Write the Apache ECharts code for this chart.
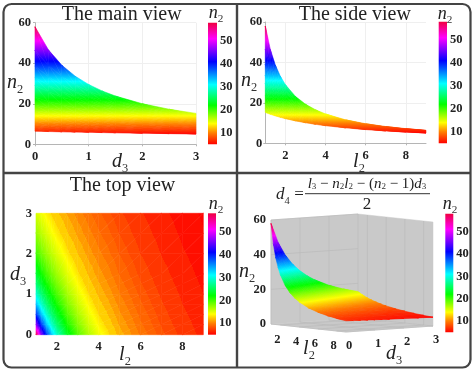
<!DOCTYPE html>
<html><head><meta charset="utf-8">
<style>html,body{margin:0;padding:0;background:#fff}#c{width:474px;height:372px}</style>
<script src="https://cdn.jsdelivr.net/npm/echarts@6/dist/echarts.min.js"></script>
</head><body><div id="c"></div>
<script>
// ---- data ----
const l2Values = [1,1.25,1.5,1.75,2,2.5,3,3.5,4,5,6,7,8,9];
const d3Values = [0,0.25,0.5,0.75,1,1.25,1.5,2,2.5,3];
// n2 surface: one row per l2 value, one column per d3 value
const n2Table = [
 [58,46.6,39,33.57,29.5,26.33,23.8,20,17.29,15.25],
 [46.4,38.83,33.43,29.38,26.22,23.7,21.64,18.46,16.13,14.35],
 [38.67,33.29,29.25,26.11,23.6,21.55,19.83,17.14,15.13,13.56],
 [33.14,29.13,26,23.5,21.45,19.75,18.31,16,14.24,12.84],
 [29,25.89,23.4,21.36,19.67,18.23,17,15,13.44,12.2],
 [23.2,21.18,19.5,18.08,16.86,15.8,14.88,13.33,12.1,11.09],
 [19.33,17.92,16.71,15.67,14.75,13.94,13.22,12,11,10.17],
 [16.57,15.53,14.63,13.82,13.11,12.47,11.9,10.91,10.08,9.38],
 [14.5,13.71,13,12.37,11.8,11.29,10.82,10,9.31,8.71],
 [11.6,11.1,10.64,10.22,9.83,9.48,9.15,8.57,8.07,7.63],
 [9.67,9.32,9,8.7,8.43,8.17,7.93,7.5,7.12,6.78],
 [8.29,8.03,7.8,7.58,7.38,7.18,7,6.67,6.37,6.1],
 [7.25,7.06,6.88,6.71,6.56,6.41,6.26,6,5.76,5.55],
 [6.44,6.3,6.16,6.03,5.9,5.78,5.67,5.45,5.26,5.08]
];
const n2Ticks = [0,20,40,60];
const d3Ticks = [0,1,2,3];
const l2Ticks = [2,4,6,8];
const barTicks = [10,20,30,40,50];
const titles = ['The main view','The side view','The top view'];
// colour scale of the colour bars: value, colour
const scaleValues = [5,10,14,18,22,31,41,47,51,58];
const scaleColors = ['#ff0000','#ff8000','#ffff00','#80ff00','#00ff00','#00ffff','#0000ff','#9900ff','#ff00ff','#f00040'];
// contour band edges visible in the top view
const bandEdges = [5.2,5.9,6.7,7.5,8.1,8.6,9.2,9.8,10.5,11.2,12,13];

// ---- colour helpers ----
const SERIF = '"Liberation Serif"';
const rgbOf = h => [1,3,5].map(i => parseInt(h.substr(i,2),16));
function colorAt(n){
  let i = 0; while (i < scaleValues.length-2 && n > scaleValues[i+1]) i++;
  const t = Math.min(1,Math.max(0,(n-scaleValues[i])/(scaleValues[i+1]-scaleValues[i])));
  const a = rgbOf(scaleColors[i]), b = rgbOf(scaleColors[i+1]);
  return 'rgb('+a.map((v,k)=>Math.round(v+(b[k]-v)*t)).join(',')+')';
}
const LO = scaleValues[0], HI = scaleValues[scaleValues.length-1];
const off = n => (n-LO)/(HI-LO);
const smoothStops = scaleValues.map((v,i)=>({offset:off(v),color:scaleColors[i]}));
const bandStops = (function(){
  const s = [];
  const edges = [LO].concat(bandEdges);
  for (let i=0;i<edges.length-1;i++){
    const c = colorAt((edges[i]+edges[i+1])/2);
    s.push({offset:off(edges[i]),color:c},{offset:off(edges[i+1]),color:c});
  }
  const last = edges[edges.length-1];
  s.push({offset:off(last),color:colorAt(last)});
  scaleValues.forEach((v,i)=>{ if (v>last) s.push({offset:off(v),color:scaleColors[i]}); });
  return s;
})();

// triangles coloured exactly by n2 (n2 is linear inside a triangle)
function triangleRenderer(stops){
  return function(params, api){
    const p = [0,1,2].map(i=>api.coord([api.value(3*i),api.value(3*i+1)]));
    const n = [2,5,8].map(i=>api.value(i));
    const ax=p[1][0]-p[0][0], ay=p[1][1]-p[0][1], bx=p[2][0]-p[0][0], by=p[2][1]-p[0][1];
    const dn1=n[1]-n[0], dn2=n[2]-n[0], det=ax*by-bx*ay;
    if (Math.abs(det)<1e-3) return null;
    const ga=(dn1*by-dn2*ay)/det, gb=(ax*dn2-bx*dn1)/det, g2=ga*ga+gb*gb;
    let fill;
    if (g2<1e-9) fill = colorAt(n[0]);
    else {
      const at = v => [p[0][0]+ga*(v-n[0])/g2, p[0][1]+gb*(v-n[0])/g2];
      const s=at(LO), e=at(HI);
      fill = {type:'linear',x:s[0],y:s[1],x2:e[0],y2:e[1],global:true,colorStops:stops};
    }
    return {type:'polygon',shape:{points:p},style:{fill:fill,stroke:fill,lineWidth:0.6}};
  };
}
function meshData(project){
  const out=[];
  for (let i=0;i<l2Values.length-1;i++) for (let j=0;j<d3Values.length-1;j++){
    const v=(a,b)=>{const q=project(l2Values[a],d3Values[b],n2Table[a][b]);return [q[0],q[1],n2Table[a][b]];};
    const A=v(i,j),B=v(i+1,j),C=v(i+1,j+1),D=v(i,j+1);
    out.push(A.concat(B,C),A.concat(C,D));
  }
  return out;
}

// ---- option assembly ----
const grids=[],xAxes=[],yAxes=[],series=[];
const lab = (extra)=>Object.assign({fontFamily:SERIF,fontWeight:'bold',fontSize:12.5,color:'#222'},extra);
function addGrid(box,x,y){
  grids.push(box);
  xAxes.push(Object.assign({gridIndex:grids.length-1,type:'value'},x));
  yAxes.push(Object.assign({gridIndex:grids.length-1,type:'value'},y));
  return grids.length-1;
}
function numAxis(min,max,ticks,margin){
  return {min:min,max:max,
    axisLine:{show:true,onZero:false,lineStyle:{color:'#b5b5b5',width:1}},
    axisTick:{show:true,length:2,customValues:ticks,lineStyle:{color:'#b5b5b5'}},
    axisLabel:{margin:margin,customValues:ticks,showMinLabel:true,showMaxLabel:true,
      fontFamily:SERIF,fontWeight:'bold',fontSize:12.5,color:'#222'},
    splitLine:{show:true,lineStyle:{color:'#efefef',width:1}}};
}
function addView(box,x,y,project,stops){
  const g=addGrid(box,x,y);
  series.push({type:'custom',xAxisIndex:g,yAxisIndex:g,silent:true,animation:false,
    encode:{x:0,y:1},renderItem:triangleRenderer(stops),data:meshData(project)});
}
function addBar(left,width,top,height){
  const g=addGrid({left,top,width,height},
    {min:0,max:1,show:false},
    {min:LO,max:HI,position:'right',
     axisLine:{show:false},axisTick:{show:false},splitLine:{show:false},
     axisLabel:Object.assign({margin:3,customValues:barTicks},lab())});
  series.push({type:'custom',xAxisIndex:g,yAxisIndex:g,silent:true,animation:false,
    encode:{x:0,y:1},data:[[0,LO,1,HI]],
    renderItem:function(params,api){
      const a=api.coord([api.value(0),api.value(1)]),b=api.coord([api.value(2),api.value(3)]);
      return {type:'rect',shape:{x:a[0],y:b[1],width:b[0]-a[0],height:a[1]-b[1]},
        style:{fill:{type:'linear',x:0,y:1,x2:0,y2:0,colorStops:smoothStops}}};
    }});
}

// main view
addView({left:35,top:22.7,width:161,height:121.6},numAxis(0,3,d3Ticks,6),numAxis(0,60,n2Ticks,4),(l,d,n)=>[d,n],smoothStops);
addBar(208,9,22.7,121.6);
// side view
addView({left:265.3,top:22,width:160.7,height:121.3},numAxis(1,9,l2Ticks,6),numAxis(0,60,n2Ticks,3),(l,d,n)=>[l,n],smoothStops);
addBar(438.7,8.3,21.7,121.6);
// top view
const tx=numAxis(1,9,l2Ticks,6), ty=numAxis(0,3,d3Ticks,4);
tx.axisLine.show=ty.axisLine.show=false; tx.axisTick.show=ty.axisTick.show=false;
tx.splitLine.show=ty.splitLine.show=false;
addView({left:36,top:213.3,width:167.3,height:121.4},tx,ty,(l,d,n)=>[l,d],bandStops);
addBar(208,8,213.3,121.4);
// 3D view: oblique projection onto a hidden grid
const project3d=(l,d,n)=>[75*(l-1)/8+29*d, 104/60*n-(l-1)+2*d];
const g3=addGrid({left:271,top:212,width:162,height:120},{min:0,max:162,show:false},{min:-8,max:112,show:false});
const flat=a=>a.reduce((s,q)=>s.concat(q),[]);
const polyRender=(type,style)=>function(params,api){
  const pts=[];
  for(let i=0;i<api.value(0);i++) pts.push(api.coord([api.value(1+2*i),api.value(2+2*i)]));
  return {type:type,shape:{points:pts},style:style};
};
const P=project3d;
const l0=1,l1=9,d0=0,d1=3,n0=0,n1=60;
const walls=[
  [P(l0,d0,n0),P(l0,d1,n0),P(l0,d1,n1),P(l0,d0,n1)],
  [P(l0,d1,n0),P(l1,d1,n0),P(l1,d1,n1),P(l0,d1,n1)],
  [P(l0,d0,n0),P(l1,d0,n0),P(l1,d1,n0),P(l0,d1,n0)]
];
series.push({type:'custom',xAxisIndex:g3,yAxisIndex:g3,silent:true,animation:false,encode:{x:1,y:2},
  renderItem:polyRender('polygon',{fill:'#c9c9c9',stroke:'#c9c9c9',lineWidth:0.5}),
  data:walls.map(w=>[w.length].concat(flat(w)))});
const gl=[];
d3Ticks.slice(1).forEach(d=>{gl.push([P(l0,d,n0),P(l0,d,n1)]);gl.push([P(l0,d,n0),P(l1,d,n0)]);});
l2Ticks.forEach(l=>{gl.push([P(l,d1,n0),P(l,d1,n1)]);gl.push([P(l,d0,n0),P(l,d1,n0)]);});
n2Ticks.slice(1,3).forEach(n=>{gl.push([P(l0,d0,n),P(l0,d1,n),P(l1,d1,n)]);});
gl.push([P(l0,d0,n1),P(l0,d1,n1),P(l1,d1,n1)]);
gl.push([P(l0,d0,n0),P(l0,d0,n1)]);
gl.push([P(l1,d0,n0),P(l1,d1,n0)]);
gl.push([P(l0,d0,n0),P(l1,d0,n0)]);
series.push({type:'custom',xAxisIndex:g3,yAxisIndex:g3,silent:true,animation:false,encode:{x:1,y:2},
  renderItem:polyRender('polyline',{stroke:'#bababa',lineWidth:0.7,fill:'none'}),
  data:gl.map(w=>[w.length].concat(flat(w)))});
series.push({type:'custom',xAxisIndex:g3,yAxisIndex:g3,silent:true,animation:false,
  encode:{x:0,y:1},renderItem:triangleRenderer(smoothStops),data:meshData(project3d)});
function addTickText(items,dx,dy,align){
  series.push({type:'custom',xAxisIndex:g3,yAxisIndex:g3,silent:true,animation:false,encode:{x:0,y:1},
    data:items,renderItem:function(params,api){
      const c=api.coord([api.value(0),api.value(1)]);
      return {type:'text',x:c[0]+dx,y:c[1]+dy,
        style:{text:String(api.value(2)),fontFamily:SERIF,fontWeight:'bold',fontSize:12.5,fill:'#222',align:align,verticalAlign:'middle'}};
    }});
}
addTickText(n2Ticks.map(n=>P(l0,d0,n).concat(n)),-5,0,'right');
addTickText(l2Ticks.map(l=>P(l,d0,n0).concat(l)),-3,15,'center');
addTickText(d3Ticks.map(d=>P(l1,d,n0).concat(d)),3,14,'center');
addBar(445.3,8,213.7,118.6);

// ---- text and frame ----
function math(sym,sub,x,y,size){
  size=size||20;
  return {type:'text',silent:true,z:20,style:{x:x,y:y,align:'center',verticalAlign:'middle',
    text:'{i|'+sym+'}{s|'+sub+'}',
    rich:{i:{fontFamily:SERIF,fontStyle:'italic',fontSize:size,fill:'#222',verticalAlign:'bottom'},
          s:{fontFamily:SERIF,fontSize:size*0.62,fill:'#333',verticalAlign:'bottom',padding:[0,0,-3,0]}}}};
}
const graphicEls=[
  {type:'rect',silent:true,z:30,shape:{x:3.5,y:4,width:467,height:363.5,r:8},style:{fill:'none',stroke:'#444',lineWidth:2.2}},
  {type:'line',silent:true,z:30,shape:{x1:237,y1:4,x2:237,y2:367},style:{stroke:'#444',lineWidth:2.4}},
  {type:'line',silent:true,z:30,shape:{x1:3.5,y1:173,x2:470,y2:173},style:{stroke:'#444',lineWidth:2.4}},
  math('n','2',15,83,20), math('d','3',120,162,20), math('n','2',216,13,18),
  math('n','2',249,81,20), math('l','2',359,162,20), math('n','2',445,14,18),
  math('d','3',18,275,20), math('l','2',125,355,20), math('n','2',216,204,18),
  math('n','2',247,272,20), math('l','2',309,349,20), math('d','3',394,354,20), math('n','2',450,204,18),
  math('d','4',283,195,17),
  {type:'text',silent:true,style:{x:299,y:195,align:'center',verticalAlign:'middle',text:'=',fontFamily:SERIF,fontSize:17,fill:'#222'}},
  {type:'line',silent:true,shape:{x1:305,y1:193.7,x2:430,y2:193.7},style:{stroke:'#333',lineWidth:1}},
  {type:'text',silent:true,style:{x:367,y:184,align:'center',verticalAlign:'middle',
    text:'{i|l}{s|3}{r| − }{i|n}{s|2}{i|l}{s|2}{r| − (}{i|n}{s|2}{r| − 1)}{i|d}{s|3}',
    rich:{i:{fontFamily:SERIF,fontStyle:'italic',fontSize:15,fill:'#222',verticalAlign:'bottom'},
          r:{fontFamily:SERIF,fontSize:15,fill:'#222',verticalAlign:'bottom'},
          s:{fontFamily:SERIF,fontSize:9,fill:'#333',verticalAlign:'bottom'}}}},
  {type:'text',silent:true,style:{x:367,y:205,align:'center',verticalAlign:'middle',text:'2',fontFamily:SERIF,fontSize:17,fill:'#222'}}
];
const titleCenters=[[121.7,15],[354.8,15],[122.5,186]];
const chart=echarts.init(document.getElementById('c'),null,{renderer:'canvas'});
chart.setOption({
  animation:false,backgroundColor:'#fff',
  title:titles.map((t,i)=>({text:t,left:titleCenters[i][0],top:titleCenters[i][1]-12,padding:0,textAlign:'center',
    textStyle:{fontFamily:SERIF,fontWeight:'normal',fontSize:20,lineHeight:24,color:'#222'}})),
  grid:grids,xAxis:xAxes,yAxis:yAxes,series:series,
  graphic:{elements:graphicEls}
});
</script></body></html>
